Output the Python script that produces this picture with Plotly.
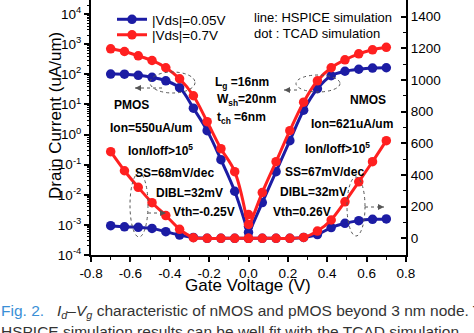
import plotly.graph_objects as go

# ---------------- data ----------------
pmos_vg = [-0.70, -0.63, -0.56, -0.49, -0.42, -0.35, -0.28, -0.21, -0.14, -0.07, 0.0]
nmos_vg = [0.0, 0.07, 0.14, 0.21, 0.28, 0.35, 0.42, 0.49, 0.56, 0.63, 0.70]

# log-scale (left axis) TCAD dots
pmos_log_07 = [706, 575, 414, 289, 166, 71.5, 19.5, 2.68, 0.34, 0.0587, 2.2e-3]
pmos_log_005 = [102, 101, 93, 80, 61, 36, 7.5, 1.35, 0.147, 0.0131, 8.8e-4]
nmos_log_07 = [1.03e-3, 0.0118, 0.126, 1.35, 11.9, 61, 166, 305, 482, 655, 792]
nmos_log_005 = [5.6e-4, 5.5e-3, 0.0587, 0.628, 6.44, 33.3, 90, 127, 148, 162, 166]

# log-scale HSPICE lines
pmos_log_07_line = [706, 575, 414, 289, 166, 71.5, 19.5, 2.68, 0.34, 0.0587, 7.5e-4]
pmos_log_005_line = [102, 101, 93, 80, 61, 36, 7.5, 1.35, 0.147, 0.0131, 5.0e-4]
nmos_log_07_line = [7.5e-4, 0.0118, 0.126, 1.35, 11.9, 61, 166, 305, 482, 655, 792]
nmos_log_005_line = [5.0e-4, 5.5e-3, 0.0587, 0.628, 6.44, 33.3, 90, 127, 148, 162, 166]

# linear-scale (right axis) curves
pmos_lin_07 = [547, 427, 322, 225, 144, 57, 4, 0, 0, 0, 0]
pmos_lin_005 = [80, 73, 69.5, 63, 42, 21, 6, 0, 0, 0, 0]
nmos_lin_07 = [0, 0, 0, 0, 6, 46, 116, 231, 357, 484, 617]
nmos_lin_005 = [0, 0, 0, 0, 6, 24, 68, 95, 112, 120, 123]

x_ticks = [-0.8, -0.6, -0.4, -0.2, 0.0, 0.2, 0.4, 0.6, 0.8]
log_tick_exp = [-4, -3, -2, -1, 0, 1, 2, 3, 4]
right_ticks = [0, 200, 400, 600, 800, 1000, 1200, 1400]

BLUE = "#1c1ca4"
RED = "#ff2020"
FONT = "Liberation Sans, Arial, sans-serif"
MS = 9.5
LW = 3

# plot-area geometry in pixels (for placing decorations)
PL, PR, PT, PB = 91, 406, 0, 255


def px(xp):
    return (xp - PL) / (PR - PL)


def py(yp):
    return (PB - yp) / (PB - PT)


fig = go.Figure()


def add_series(color, name, legend, logs, lins):
    first = True
    for vg, line_vals, dot_vals in logs:
        fig.add_trace(go.Scatter(x=vg, y=line_vals, mode="lines", line=dict(color=color, width=LW, shape="spline"),
                                 showlegend=False, hoverinfo="skip", yaxis="y"))
        fig.add_trace(go.Scatter(x=vg, y=dot_vals, mode="markers", marker=dict(color=color, size=MS),
                                 showlegend=False, yaxis="y"))
    for vg, vals in lins:
        fig.add_trace(go.Scatter(x=vg, y=vals, mode="lines+markers",
                                 line=dict(color=color, width=LW, shape="spline", smoothing=0.6),
                                 marker=dict(color=color, size=MS), name=name, legend=legend,
                                 showlegend=first, yaxis="y2"))
        first = False


add_series(BLUE, "|Vds|=0.05V", "legend",
           [(pmos_vg, pmos_log_005_line, pmos_log_005), (nmos_vg, nmos_log_005_line, nmos_log_005)],
           [(pmos_vg, pmos_lin_005), (nmos_vg, nmos_lin_005)])
add_series(RED, "|Vds|=0.7V", "legend2",
           [(pmos_vg, pmos_log_07_line, pmos_log_07), (nmos_vg, nmos_log_07_line, nmos_log_07)],
           [(pmos_vg, pmos_lin_07), (nmos_vg, nmos_lin_07)])

log_ticktext = ["10<sup>%d</sup>" % e for e in log_tick_exp]
minor_log = [k * 10.0 ** e for e in range(-4, 5) for k in range(2, 10)]

leg_common = dict(xanchor="left", yanchor="top", bgcolor="rgba(0,0,0,0)",
                  font=dict(size=13.5, family=FONT, color="black"), itemwidth=30)

fig.update_layout(
    width=474, height=333,
    margin=dict(l=PL, r=474 - PR, t=PT, b=333 - PB),
    paper_bgcolor="white", plot_bgcolor="white",
    font=dict(family=FONT, size=13.5, color="black"),
    showlegend=True,
    legend=dict(x=px(112), y=py(4), **leg_common),
    legend2=dict(x=px(112), y=py(19.5), **leg_common),
    xaxis=dict(range=[-0.8, 0.8], tickvals=x_ticks, ticktext=["%.1f" % v for v in x_ticks],
               showline=True, linecolor="black", linewidth=2, mirror=False,
               ticks="outside", ticklen=5, tickwidth=1.5, tickcolor="black",
               minor=dict(ticks="outside", ticklen=3, tickwidth=1.2, dtick=0.1, tick0=0, tickcolor="black"),
               showgrid=False, zeroline=False, tickfont=dict(size=13.5)),
    xaxis2=dict(range=[-0.8, 0.8], overlaying="x", side="top", anchor="y", showline=False,
                showticklabels=False, tickvals=x_ticks, ticks="inside", ticklen=5, tickwidth=1.5,
                tickcolor="black",
                minor=dict(ticks="inside", ticklen=3, tickwidth=1.2, dtick=0.1, tick0=0, tickcolor="black"),
                showgrid=False, zeroline=False),
    yaxis=dict(type="log", range=[-4, 4.47], tickvals=[10.0 ** e for e in log_tick_exp],
               ticktext=log_ticktext, showline=True, linecolor="black", linewidth=2,
               ticks="outside", ticklen=5, tickwidth=1.5, tickcolor="black",
               minor=dict(ticks="outside", ticklen=2.5, tickwidth=1, tickvals=minor_log, tickcolor="black"),
               showgrid=False, zeroline=False, tickfont=dict(size=13.5)),
    yaxis2=dict(range=[-105, 1505], overlaying="y", side="right", tickvals=right_ticks,
                showline=True, linecolor="black", linewidth=2,
                ticks="inside", ticklen=5, tickwidth=1.5, tickcolor="black",
                minor=dict(ticks="inside", ticklen=3, tickwidth=1.2, dtick=100, tick0=0, tickcolor="black"),
                showgrid=False, zeroline=False, tickfont=dict(size=13.5)),
)

# ---------- annotations ----------
ann = []


def txt(xp, yp, text, size=12, bold=True):
    t = "<b>%s</b>" % text if bold else text
    ann.append(dict(x=px(xp), y=py(yp), xref="paper", yref="paper", text=t, showarrow=False,
                    xanchor="left", yanchor="middle",
                    font=dict(size=size, family=FONT, color="black")))


txt(252, 18, "line: HSPICE simulation", size=13, bold=False)
txt(252, 34, "dot : TCAD simulation", size=13, bold=False)
txt(112, 105, "PMOS")
txt(108, 128, "Ion=550uA/um")
txt(126, 150, "Ion/Ioff&gt;10<sup>5</sup>")
txt(133, 173, "SS=68mV/dec")
txt(154, 193, "DIBL=32mV")
txt(171, 212, "Vth=-0.25V")
txt(213, 83, "L<sub>g</sub> =16nm")
txt(215, 100, "W<sub>sh</sub>=20nm")
txt(215, 118, "t<sub>ch</sub> =6nm")
txt(348, 100, "NMOS")
txt(309, 124, "Ion=621uA/um")
txt(303, 148, "Ion/Ioff&gt;10<sup>5</sup>")
txt(283, 172, "SS=67mV/dec")
txt(278, 192, "DIBL=32mV")
txt(271, 212, "Vth=0.26V")

# dotted ellipses and arrows (pixel boxes of the reference)
GRAY = "#555555"
ellipses = [(150, 195, 72, 93), (296, 340, 75, 92), (130, 148, 173, 237), (347, 365, 177, 236)]
shapes = []
for x0, x1, y0, y1 in ellipses:
    shapes.append(dict(type="circle", xref="paper", yref="paper", x0=px(x0), x1=px(x1), y0=py(y0), y1=py(y1),
                       line=dict(color=GRAY, width=1, dash="dot")))
arrows = [(162, 135, 88), (297, 284, 90), (148, 166, 213), (365, 384, 207)]
for xt, xh, yv in arrows:
    shapes.append(dict(type="line", xref="paper", yref="paper", x0=px(xt), x1=px(xh), y0=py(yv), y1=py(yv),
                       line=dict(color=GRAY, width=1, dash="dot")))
    ann.append(dict(x=px(xh), y=py(yv), xref="paper", yref="paper", ax=(6 if xh < xt else -6), ay=0,
                    showarrow=True, arrowhead=2, arrowsize=1.2, arrowwidth=1, arrowcolor=GRAY, text=""))

# axis titles
ann.append(dict(x=px(55), y=py(116), xref="paper", yref="paper",
                text="Drain Current (uA/um)", textangle=-90, showarrow=False,
                font=dict(size=17, family=FONT, color="black"), xanchor="center", yanchor="middle"))
ann.append(dict(x=px(247.5), y=py(285), xref="paper", yref="paper",
                text="Gate Voltage (V)", showarrow=False,
                font=dict(size=17, family=FONT, color="black"), xanchor="center", yanchor="middle"))

# caption
cap1 = ("<span style='color:#3a8fd6'>Fig. 2.</span>\u00a0\u00a0\u00a0"
        "<i>I</i><sub><i>d</i></sub>\u2013<i>V</i><sub><i>g</i></sub> characteristic of nMOS and pMOS "
        "beyond 3 nm node. The")
cap2 = "HSPICE simulation results can be well fit with the TCAD simulation"
ann.append(dict(x=px(-1), y=py(311), xref="paper", yref="paper", text=cap1,
                showarrow=False, xanchor="left", yanchor="middle",
                font=dict(size=15.5, family=FONT, color="#333333")))
ann.append(dict(x=px(-1), y=py(331), xref="paper", yref="paper", text=cap2,
                showarrow=False, xanchor="left", yanchor="middle",
                font=dict(size=15.5, family=FONT, color="#333333")))

fig.update_layout(annotations=ann, shapes=shapes)
fig.write_html("out.html")
